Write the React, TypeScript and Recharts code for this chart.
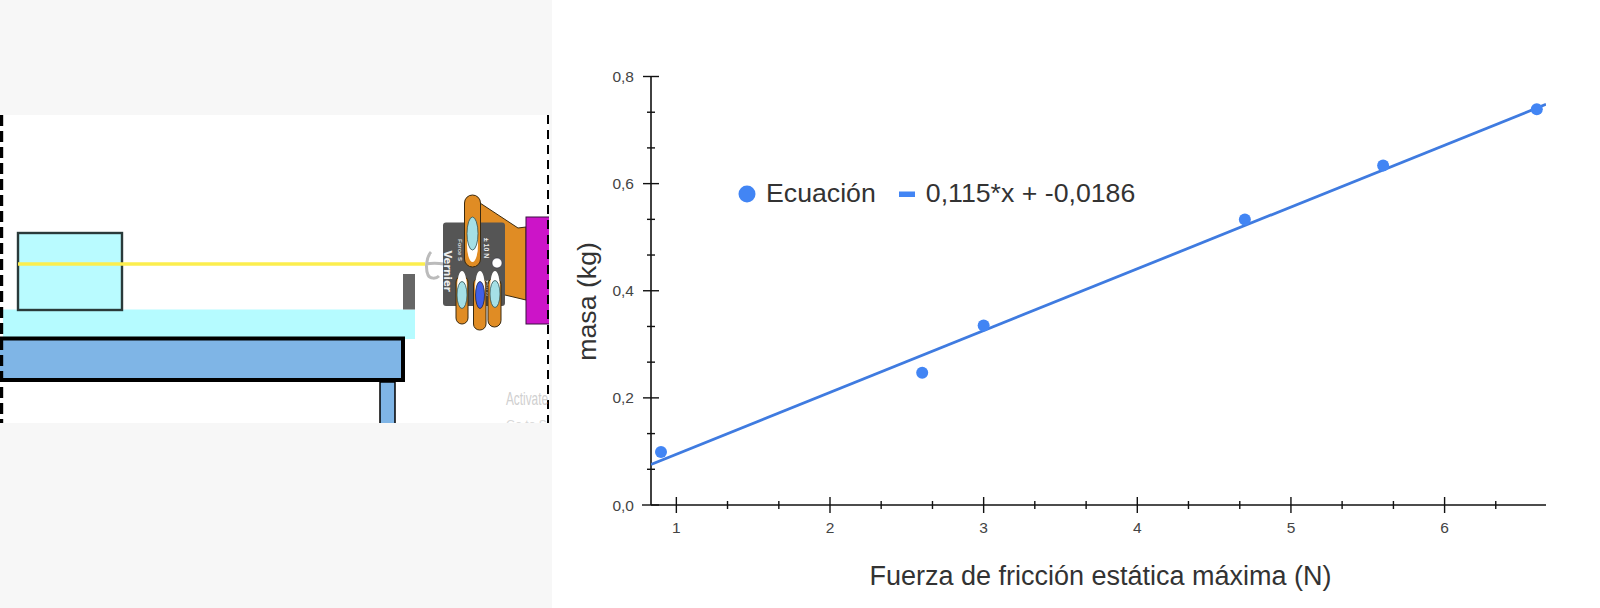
import React from "react";
import { ScatterChart, Scatter, XAxis, YAxis, Legend, Label } from "recharts";

const xMajor = [1, 2, 3, 4, 5, 6];
const xMinor = [1.333, 1.667, 2.333, 2.667, 3.333, 3.667, 4.333, 4.667, 5.333, 5.667, 6.333];
const yMajor = [0, 0.2, 0.4, 0.6, 0.8];
const yMinor = [0.0667, 0.1333, 0.2667, 0.3333, 0.4667, 0.5333, 0.6667, 0.7333];
const xDomain: [number, number] = [0.835, 6.66];
const yDomain: [number, number] = [0, 0.8];
const forceN = [0.9, 2.6, 3, 4.7, 5.6, 6.6];
const massKg = [0.099, 0.247, 0.335, 0.533, 0.634, 0.739];
const fitX = [0.835, 6.66];
const fitY = [0.0757, 0.748];
const seriesNames = ["Ecuación", "0,115*x + -0,0186"];
const xTitle = "Fuerza de fricción estática máxima (N)";
const yTitle = "masa (kg)";

const points = forceN.map((x, i) => ({ x, y: massKg[i] }));
const fit = fitX.map((x, i) => ({ x, y: fitY[i] }));

const FONT = "'Liberation Sans', Arial, sans-serif";
const BLUE = "#4285f4";
const LINE = "#3f7be0";

const fmt = (v: number) => v.toFixed(1).replace(".", ",");

function XTick(props: any) {
  const { x, y, payload } = props;
  const major = xMajor.includes(payload.value);
  const h = major ? 8 : 4;
  return (
    <g>
      <line x1={x} x2={x} y1={y - h} y2={y + h} stroke="#111" strokeWidth={1.4} />
      {major && (
        <text x={x} y={y + 28} textAnchor="middle" fontSize={15.5} fontFamily={FONT} fill="#444">
          {payload.value}
        </text>
      )}
    </g>
  );
}

function YTick(props: any) {
  const { x, y, payload } = props;
  const major = yMajor.includes(payload.value);
  const h = major ? 8 : 4;
  const left = payload.value === 0 ? x - h - 1 : x - h;
  return (
    <g>
      <line x1={left} x2={x + h} y1={y} y2={y} stroke="#111" strokeWidth={1.4} />
      {major && (
        <text x={x - 17} y={y + 5.5} textAnchor="end" fontSize={15.5} fontFamily={FONT} fill="#444">
          {fmt(payload.value)}
        </text>
      )}
    </g>
  );
}

function LegendBox() {
  return (
    <div style={{ display: "flex", alignItems: "center", fontFamily: FONT, fontSize: 26.7, color: "#333", whiteSpace: "nowrap" }}>
      <svg width={18} height={18} style={{ marginRight: 10 }}>
        <circle cx={9} cy={9} r={8.5} fill={BLUE} />
      </svg>
      <span>{seriesNames[0]}</span>
      <svg width={18} height={18} style={{ marginLeft: 22, marginRight: 10 }}>
        <rect x={1} y={6.5} width={16} height={5.5} fill={BLUE} />
      </svg>
      <span>{seriesNames[1]}</span>
    </div>
  );
}

const ORANGE = "#e08c24";
const EDGE = "#3a2a10";
const NAIL = "#a5e0e6";

function Apparatus() {
  return (
    <svg width={552} height={608} style={{ position: "absolute", left: 0, top: 0 }}>
      <defs>
        <clipPath id="panel"><rect x={0} y={115} width={549} height={308} /></clipPath>
      </defs>
      <rect x={0} y={0} width={552} height={608} fill="#f7f7f7" />
      <rect x={0} y={115} width={549} height={308} fill="#fff" />
      <g clipPath="url(#panel)">
        <rect x={3} y={309.5} width={412} height={29.5} fill="#b5fbff" />
        <rect x={-3} y={338.5} width={406} height={41.5} fill="#7fb5e6" stroke="#000" strokeWidth={4} />
        <rect x={380} y={382} width={15} height={50} fill="#7fb5e6" stroke="#000" strokeWidth={1.5} />
        <rect x={18} y={233} width={104} height={77} fill="#b9fbff" stroke="#2a3a3a" strokeWidth={2.4} />
        <rect x={403} y={274} width={12} height={35.5} fill="#666" />
        <path d="M431 252 C427 256 425 268 428 275 C430 279 436 279 439 276 M426 264 C431 263 438 263 444 264" fill="none" stroke="#bbb" strokeWidth={3} />
        <line x1={18} x2={425} y1={264} y2={264} stroke="#fcee4e" strokeWidth={3.4} />

        <path d="M480 203 L518 228 L526 227 L526 300 L505 295 L480 295 Z" fill={ORANGE} stroke={EDGE} strokeWidth={1} />
        <rect x={443} y={222.5} width={62} height={83.5} rx={3} fill="#555" />
        <text transform="translate(444 271) rotate(90)" textAnchor="middle" fontSize={10} fontWeight="bold" fontFamily="'DejaVu Sans', sans-serif" fill="#eee">Vernier</text>
        <text transform="translate(458 250) rotate(90)" textAnchor="middle" fontSize={6} fontWeight="bold" fontFamily={FONT} fill="#ddd">Force S</text>
        <text transform="translate(484 248) rotate(90)" textAnchor="middle" fontSize={7} fontWeight="bold" fontFamily={FONT} fill="#eee">± 10 N</text>
        <text transform="translate(485 288) rotate(90)" textAnchor="middle" fontSize={6} fontWeight="bold" fontFamily={FONT} fill="#ddd">±50 N</text>

        <rect x={464.5} y={195} width={16} height={72} rx={8} fill={ORANGE} stroke={EDGE} strokeWidth={1} />
        <ellipse cx={472.5} cy={245} rx={5.5} ry={17} fill="#fff" />
        <ellipse cx={472.5} cy={233.5} rx={5.5} ry={16.5} fill={NAIL} stroke="#2f4f4f" strokeWidth={0.8} />

        <circle cx={497} cy={263} r={5} fill="#fff" stroke="#223" strokeWidth={0.5} />

        <rect x={456} y={276} width={12} height={48} rx={6} fill={ORANGE} stroke={EDGE} strokeWidth={1} />
        <rect x={473.5} y={278} width={12.5} height={52} rx={6} fill={ORANGE} stroke={EDGE} strokeWidth={1} />
        <rect x={488} y={278} width={13} height={49} rx={6.5} fill={ORANGE} stroke={EDGE} strokeWidth={1} />
        <ellipse cx={462} cy={288} rx={5} ry={17} fill="#fff" />
        <ellipse cx={480} cy={288} rx={5} ry={17} fill="#fff" />
        <ellipse cx={495} cy={288} rx={5} ry={17} fill="#fff" />
        <ellipse cx={462} cy={295} rx={5} ry={13.5} fill={NAIL} stroke="#2f4f4f" strokeWidth={0.8} />
        <ellipse cx={480} cy={295} rx={4.5} ry={13.5} fill="#3f5fe8" stroke="#223" strokeWidth={0.8} />
        <ellipse cx={495} cy={294} rx={5} ry={13.5} fill={NAIL} stroke="#2f4f4f" strokeWidth={0.8} />

        <rect x={526} y={217} width={26} height={107} fill="#cc14c8" stroke="#3a1040" strokeWidth={1} />
        <line x1={1.5} x2={1.5} y1={115} y2={423} stroke="#000" strokeWidth={3.4} strokeDasharray="11 5" />
        <line x1={548} x2={548} y1={115} y2={423} stroke="#000" strokeWidth={2} strokeDasharray="9 6" />
        <text x={506} y={405} fontSize={19} fontFamily={FONT} fill="#d0d0d0" textLength={42} lengthAdjust="spacingAndGlyphs">Activate</text>
        <text x={506} y={429} fontSize={12} fontFamily={FONT} fill="#d8d8d8">Go to S</text>
      </g>
    </svg>
  );
}

export default function App() {
  return (
    <div style={{ position: "absolute", left: 0, top: 0, width: 1600, height: 608, background: "#fff" }}>
      <Apparatus />
      <ScatterChart
        width={1600}
        height={608}
        margin={{ top: 76.5, right: 54, bottom: 43, left: 591 }}
        style={{ position: "absolute", left: 0, top: 0 }}
      >
        <XAxis
          type="number"
          dataKey="x"
          domain={xDomain}
          allowDataOverflow
          ticks={[...xMajor, ...xMinor].sort((a, b) => a - b)}
          interval={0}
          height={60}
          tickSize={0}
          tickMargin={0}
          tick={<XTick />}
          tickLine={false}
          axisLine={{ stroke: "#111", strokeWidth: 1.6 }}
        >
          <Label value={xTitle} position="insideBottom" offset={-20} dx={2} fontSize={27} fontFamily={FONT} fill="#333" />
        </XAxis>
        <YAxis
          type="number"
          dataKey="y"
          domain={yDomain}
          allowDataOverflow
          ticks={[...yMajor, ...yMinor].sort((a, b) => a - b)}
          interval={0}
          width={60}
          tickSize={0}
          tickMargin={0}
          tick={<YTick />}
          tickLine={false}
          axisLine={{ stroke: "#111", strokeWidth: 1.6 }}
        >
          <Label value={yTitle} angle={-90} position="insideLeft" offset={-4} dy={70} fontSize={26.7} fontFamily={FONT} fill="#333" />
        </YAxis>
        <Legend content={<LegendBox />} layout="horizontal" verticalAlign="middle" align="center" wrapperStyle={{ position: "absolute", left: 738, top: 178, width: "auto" }} />
        <Scatter name={seriesNames[1]} data={fit} line={{ stroke: LINE, strokeWidth: 2.8 }} shape={() => <g />} isAnimationActive={false} />
        <Scatter name={seriesNames[0]} data={points} fill={BLUE} shape={(p: any) => <circle cx={p.cx} cy={p.cy} r={6} fill={BLUE} />} isAnimationActive={false} />
      </ScatterChart>
    </div>
  );
}
